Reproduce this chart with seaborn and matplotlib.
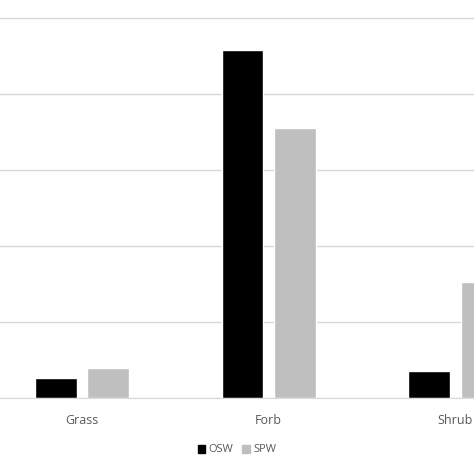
import matplotlib
matplotlib.use("Agg")
import matplotlib.pyplot as plt
import seaborn as sns
import pandas as pd

categories = ["Grass", "Forb", "Shrub"]
osw_values = [0.26, 4.58, 0.36]
spw_values = [0.39, 3.55, 1.53]
series = ["OSW", "SPW"]

df = pd.DataFrame({
    "cat": categories * 2,
    "val": osw_values + spw_values,
    "grp": ["OSW"] * 3 + ["SPW"] * 3,
})

sns.set_style("white")
plt.rcParams["font.family"] = ["Open Sans", "DejaVu Sans"]

fig = plt.figure(figsize=(4.74, 4.74), dpi=100)
ax = fig.add_axes([0, 76 / 474, 1, 398 / 474])

sns.barplot(data=df, x="cat", y="val", hue="grp", hue_order=series,
            palette=["#000000", "#bfbfbf"], width=0.56, gap=0.2,
            ax=ax, legend=False, saturation=1)

ax.set_xlim(-0.44, 2.10)
ax.set_ylim(0, 5.24)
ax.set_yticks([0, 1, 2, 3, 4, 5])
ax.yaxis.grid(True, color="#d9d9d9", linewidth=1)
ax.set_axisbelow(True)
ax.tick_params(axis="y", left=False, labelleft=False)
ax.tick_params(axis="x", bottom=False, labelsize=9, colors="#595959", pad=8)
for s in ["top", "left", "right"]:
    ax.spines[s].set_visible(False)
ax.spines["bottom"].set_color("#d9d9d9")
ax.set_xlabel("")
ax.set_ylabel("")

handles = [plt.Rectangle((0, 0), 1, 1, color=c) for c in ["#000000", "#bfbfbf"]]
fig.legend(handles, series, loc="center", bbox_to_anchor=(0.5, 24 / 474),
           ncol=2, frameon=False, fontsize=8, handlelength=0.7, handleheight=0.7,
           handletextpad=0.3, columnspacing=0.8, labelcolor="#595959")

fig.savefig("out.png", dpi=100)
